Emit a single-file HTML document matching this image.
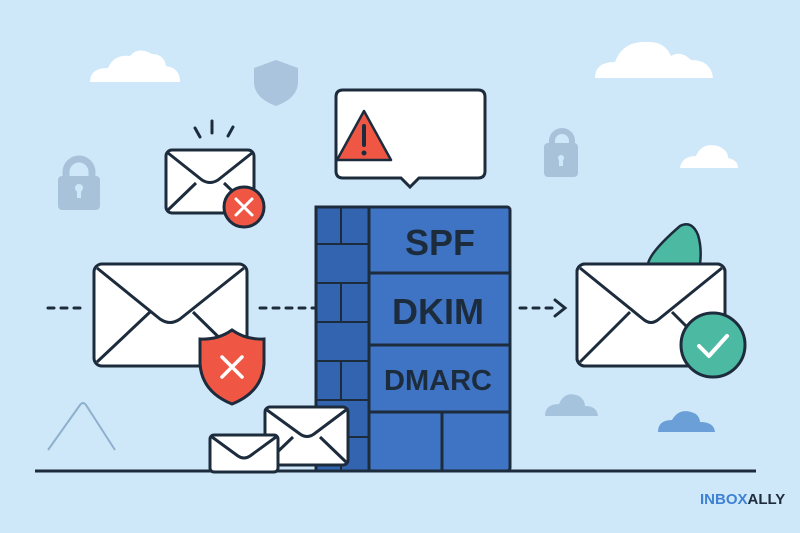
<!DOCTYPE html>
<html><head><style>body{margin:0}svg{display:block}</style></head><body>
<svg width="800" height="533" viewBox="0 0 800 533" xmlns="http://www.w3.org/2000/svg" font-family="Liberation Sans, sans-serif">
<rect width="800" height="533" fill="#cfe8f9"/>
<g fill="#fff">
<path d="M90 82 q0-14 18-14 q6-14 22-12 q8-10 22-2 q12 0 14 12 q14 2 14 16z"/>
<path d="M595 78 q0-16 20-16 q8-22 34-20 q16 0 22 14 q10-6 20 4 q20 0 22 18z"/>
<path d="M680 168 q2-12 16-12 q6-14 22-10 q10 4 10 12 q10 2 10 10z"/>
</g>
<path d="M545 416 q0-12 14-12 q6-14 20-8 q6 4 6 10 q12 0 13 10z" fill="#a5c3dc"/>
<path d="M658 432 q0-12 14-12 q8-14 24-6 q4 4 4 8 q14 0 15 10z" fill="#6a9fd8"/>
<path d="M276 60 l22 8 v14 q0 16-22 24 q-22-8-22-24 v-14z" fill="#a9c4dc"/>
<g fill="#a8c2da">
<path d="M66 178 v-6 a13 13 0 0 1 26 0 v6" fill="none" stroke="#a8c2da" stroke-width="7"/>
<rect x="58" y="176" width="42" height="34" rx="4"/>
<path d="M552 145 v-4 a10 10 0 0 1 20 0 v4" fill="none" stroke="#a8c2da" stroke-width="6"/>
<rect x="544" y="143" width="34" height="34" rx="4"/>
</g>
<circle cx="79" cy="188" r="4" fill="#cfe8f9"/><rect x="77" y="188" width="4" height="10" fill="#cfe8f9"/>
<circle cx="561" cy="158" r="3" fill="#cfe8f9"/><rect x="559" y="158" width="4" height="8" fill="#cfe8f9"/>
<path d="M48 450 L80 405 Q83 401 86 405 L115 450" fill="none" stroke="#8fb0cc" stroke-width="2"/>
<line x1="35" y1="471" x2="756" y2="471" stroke="#1d2c3c" stroke-width="3"/>
<g stroke="#1d2c3c" stroke-width="3" stroke-linecap="round" stroke-dasharray="6 7" fill="none">
<line x1="48" y1="308" x2="86" y2="308"/>
<line x1="260" y1="308" x2="332" y2="308"/>
<line x1="520" y1="308" x2="558" y2="308"/>
</g>
<path d="M555 300 l10 8 -10 8" fill="none" stroke="#1d2c3c" stroke-width="3" stroke-linecap="round"/>
<!-- wall -->
<g stroke="#1d2c3c" stroke-width="3">
<rect x="316" y="207" width="194" height="264" rx="3" fill="#3f74c4"/>
<rect x="316" y="207" width="53" height="264" fill="#3364b0"/>
<path d="M369 207 V471 M369 273 H510 M369 345 H510 M369 412 H510 M442 412 V471" fill="none"/>
<path d="M316 244 H369 M316 283 H369 M316 322 H369 M316 361 H369 M316 400 H369 M316 437 H369 M341 207 V244 M341 283 V322 M341 361 V400 M341 437 V471" fill="none" stroke-width="2"/>
</g>
<g fill="#1d2c3c" font-weight="bold" text-anchor="middle">
<text x="440" y="255" font-size="36">SPF</text>
<text x="438" y="324" font-size="36">DKIM</text>
<text x="438" y="390" font-size="29">DMARC</text>
</g>
<!-- bubble -->
<path d="M343 90 H478 q7 0 7 7 V171 q0 7-7 7 H419 L410 187 L401 178 H343 q-7 0-7-7 V97 q0-7 7-7z" fill="#fff" stroke="#1d2c3c" stroke-width="3"/>
<path d="M364 111 L391 160 H337z" fill="#ef5744" stroke="#1d2c3c" stroke-width="2.5" stroke-linejoin="round"/>
<line x1="364" y1="126" x2="364" y2="145" stroke="#1d2c3c" stroke-width="4" stroke-linecap="round"/>
<circle cx="364" cy="153" r="2.5" fill="#1d2c3c"/>
<!-- envelopes -->
<g stroke="#1d2c3c" stroke-width="3" fill="#fff" stroke-linejoin="round">
<rect x="94" y="264" width="153" height="102" rx="8"/>
<path d="M97 268 L160 319 Q170 326 180 319 L244 268 M97 362 L150 312 M244 362 L193 312" fill="none"/>
<rect x="166" y="150" width="88" height="63" rx="6"/>
<path d="M168 153 L202 180 Q210 185 218 180 L252 153 M168 210 L196 183 M252 210 L224 183" fill="none"/>
<rect x="577" y="264" width="148" height="102" rx="8" />
<rect x="265" y="407" width="83" height="58" rx="5"/>
<path d="M267 410 L300 434 Q307 439 314 434 L346 410 M267 462 L293 437 M346 462 L320 437" fill="none"/>
<rect x="210" y="435" width="68" height="37" rx="4"/>
<path d="M212 437 L238 456 Q244 460 250 456 L276 437" fill="none"/>
</g>
<path d="M648 264 Q650 252 680 226 Q692 220 698 235 Q702 248 700 264z" fill="#4cbaa2" stroke="#1d2c3c" stroke-width="2.5"/>
<rect x="577" y="264" width="148" height="102" rx="8" fill="#fff" stroke="#1d2c3c" stroke-width="3"/>
<path d="M580 268 L643 319 Q651 326 659 319 L722 268 M580 362 L630 312 M722 362 L672 312" fill="none" stroke="#1d2c3c" stroke-width="3"/>
<circle cx="713" cy="345" r="32" fill="#4cbaa2" stroke="#1d2c3c" stroke-width="3"/>
<path d="M699 346 l10 10 l18-20" fill="none" stroke="#fff" stroke-width="4" stroke-linecap="round" stroke-linejoin="round"/>
<circle cx="244" cy="207" r="20" fill="#ef5744" stroke="#1d2c3c" stroke-width="3"/>
<path d="M236 199 l16 16 M252 199 l-16 16" stroke="#fff" stroke-width="3" stroke-linecap="round"/>
<g stroke="#1d2c3c" stroke-width="3" stroke-linecap="round">
<line x1="195" y1="128" x2="200" y2="137"/><line x1="212" y1="121" x2="212" y2="133"/><line x1="233" y1="127" x2="228" y2="136"/>
</g>
<path d="M232 330 Q246 340 264 339 V364 Q262 392 232 404 Q202 392 200 364 V339 Q218 340 232 330z" fill="#ef5744" stroke="#1d2c3c" stroke-width="3"/>
<path d="M222 357 l20 20 M242 357 l-20 20" stroke="#fff" stroke-width="3.5" stroke-linecap="round"/>
<text x="700" y="504" font-size="15" font-weight="bold" fill="#3f82d4">INBOX<tspan fill="#1d2c3c">ALLY</tspan></text>
</svg>
</body></html>
